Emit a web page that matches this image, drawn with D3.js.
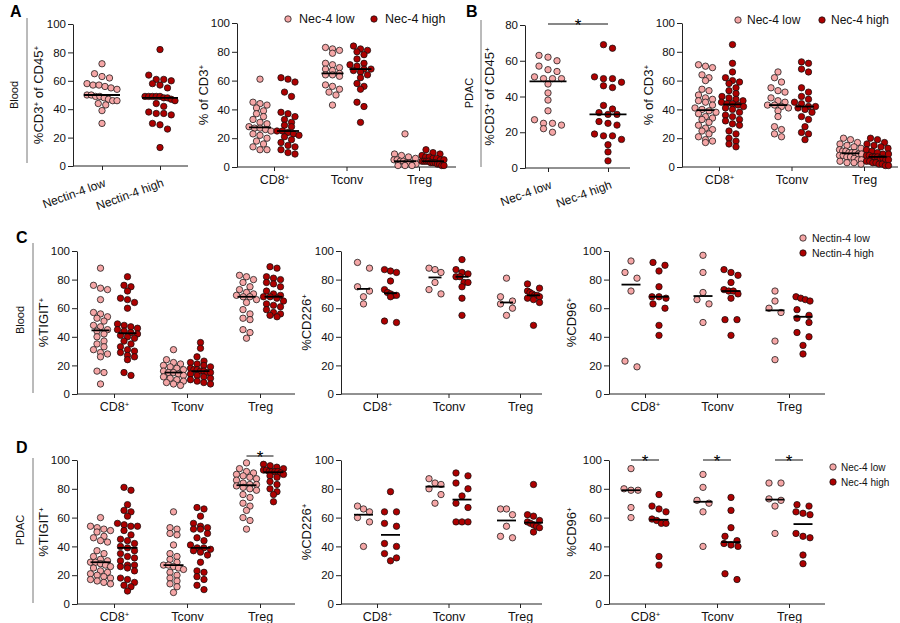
<!DOCTYPE html>
<html>
<head>
<meta charset="utf-8">
<script src="https://cdn.jsdelivr.net/npm/d3@7"></script>
<style>
  body { margin: 0; background: #fff; }
  svg { font-family: "Liberation Sans", Arial, sans-serif; }
</style>
</head>
<body>
<svg id="chart" width="900" height="623"></svg>
<script>
// ---- data ----
const cells = ["CD8+", "Tconv", "Treg"];
const nectinGroups = ["Nectin-4 low", "Nectin-4 high"];
const necGroups = ["Nec-4 low", "Nec-4 high"];

// A: blood, %CD3+ of CD45+
const bloodCD3OfCD45Low = [72, 65, 63, 62, 58, 57, 57, 56, 55, 54, 50, 50, 49, 49, 48, 47, 46, 46, 44, 43, 39, 30];
const bloodCD3OfCD45High = [82, 64, 61, 61, 60, 58, 57, 55, 49, 49, 49, 49, 49, 48, 48, 47, 46, 44, 42, 38, 37, 37, 36, 30, 29, 26, 13];
// A: blood, % of CD3+  (CD8+, Tconv, Treg)
const bloodSubsetLow = [
  [61, 45, 44, 43, 41, 39, 37, 35, 33, 31, 30, 28, 27, 27, 26, 25, 23, 22, 20, 18, 16, 14, 12, 12],
  [83, 82, 81, 79, 72, 71, 69, 68, 67, 65, 64, 64, 63, 57, 56, 54, 52, 50, 43],
  [23, 9, 8, 7, 6, 5, 5, 4, 4, 3, 3, 2, 2, 1, 1, 1]
];
const bloodSubsetHigh = [
  [62, 61, 59, 52, 49, 38, 37, 35, 33, 31, 29, 28, 25, 25, 24, 23, 22, 21, 19, 17, 15, 14, 12, 10, 9],
  [84, 82, 81, 80, 78, 75, 72, 71, 70, 68, 68, 67, 66, 64, 62, 58, 56, 54, 45, 42, 31],
  [12, 10, 9, 8, 7, 7, 6, 6, 5, 5, 4, 4, 4, 4, 3, 3, 3, 2, 2, 1, 1]
];

// B: PDAC
const pdacCD3OfCD45Low = [63, 62, 60, 57, 55, 54, 51, 50, 50, 50, 47, 42, 38, 32, 27, 25, 25, 24, 22, 20];
const pdacCD3OfCD45High = [69, 67, 51, 50, 50, 48, 46, 45, 35, 33, 31, 30, 30, 26, 25, 24, 19, 18, 18, 16, 13, 9, 4];
const pdacCD3Stars = ["*"];
const pdacSubsetLow = [
  [71, 70, 69, 64, 62, 60, 54, 53, 50, 48, 47, 46, 45, 43, 41, 40, 39, 38, 37, 35, 34, 33, 31, 29, 27, 26, 25, 23, 21, 19, 18, 17],
  [66, 62, 59, 55, 53, 52, 48, 46, 45, 43, 43, 42, 41, 39, 35, 28, 26, 23, 21],
  [20, 19, 17, 16, 15, 14, 13, 12, 11, 11, 10, 10, 10, 9, 9, 8, 8, 7, 7, 6, 5, 5, 4, 3, 3, 2]
];
const pdacSubsetHigh = [
  [85, 72, 66, 62, 60, 59, 58, 55, 53, 51, 49, 48, 47, 46, 45, 44, 44, 43, 42, 41, 40, 38, 36, 35, 33, 32, 30, 29, 25, 23, 20, 18, 16, 14],
  [73, 72, 68, 66, 55, 52, 49, 47, 45, 44, 42, 42, 41, 40, 38, 35, 33, 28, 24, 23, 19],
  [20, 19, 17, 16, 15, 14, 13, 12, 11, 10, 9, 9, 8, 8, 7, 7, 7, 6, 6, 5, 5, 4, 4, 3, 3, 2, 2, 1, 1]
];

// C: blood checkpoint receptors
const bloodTigitLow = [
  [88, 76, 74, 73, 66, 57, 56, 54, 53, 51, 48, 47, 45, 44, 42, 40, 37, 35, 33, 31, 29, 28, 26, 16, 15, 7],
  [31, 24, 22, 21, 20, 19, 18, 17, 16, 15, 15, 14, 13, 12, 11, 10, 9, 8, 7, 6],
  [83, 82, 80, 78, 75, 73, 71, 70, 69, 68, 68, 66, 64, 59, 56, 53, 52, 45, 43, 39]
];
const bloodTigitHigh = [
  [82, 76, 75, 72, 67, 66, 64, 60, 49, 48, 47, 46, 45, 44, 43, 42, 41, 40, 39, 37, 35, 33, 31, 30, 29, 27, 26, 24, 15, 13],
  [36, 32, 26, 23, 22, 21, 20, 19, 18, 17, 17, 16, 16, 15, 15, 14, 13, 12, 11, 10, 9, 8, 7],
  [89, 88, 82, 81, 80, 78, 77, 75, 72, 70, 69, 68, 68, 67, 65, 63, 62, 61, 59, 57, 56, 55, 54]
];
const bloodCd226Low = [[92, 88, 75, 72, 68, 63], [88, 87, 85, 78, 73, 70], [81, 68, 65, 63, 60, 55]];
const bloodCd226High = [
  [87, 86, 85, 79, 73, 71, 70, 69, 69, 68, 51, 50],
  [94, 87, 85, 84, 82, 82, 78, 78, 75, 67, 55],
  [77, 74, 72, 71, 70, 69, 69, 68, 67, 66, 64, 48]
];
const bloodCd96Low = [[93, 85, 81, 72, 23, 19], [97, 85, 71, 66, 63, 50], [72, 65, 60, 57, 37, 24]];
const bloodCd96High = [
  [92, 90, 86, 75, 68, 68, 67, 63, 60, 48, 41],
  [87, 85, 83, 78, 73, 72, 72, 70, 67, 52, 52, 41],
  [68, 67, 66, 65, 59, 55, 53, 50, 43, 40, 34, 28]
];

// D: PDAC checkpoint receptors
const pdacTigitLow = [
  [60, 54, 53, 52, 51, 50, 47, 46, 44, 43, 37, 35, 33, 31, 30, 29, 29, 28, 27, 26, 25, 23, 22, 21, 20, 19, 18, 17, 16, 15, 14],
  [64, 53, 52, 49, 48, 41, 35, 33, 31, 29, 27, 27, 26, 25, 24, 22, 20, 18, 16, 14, 12, 8],
  [98, 94, 92, 91, 90, 89, 88, 87, 86, 84, 83, 83, 82, 81, 80, 79, 76, 74, 70, 68, 65, 60, 58, 52]
];
const pdacTigitHigh = [
  [81, 79, 69, 65, 64, 61, 56, 55, 54, 54, 51, 48, 45, 44, 42, 40, 39, 37, 35, 33, 32, 30, 27, 27, 26, 25, 23, 18, 17, 15, 13, 12, 9],
  [67, 66, 61, 56, 54, 53, 52, 52, 49, 46, 44, 41, 39, 39, 38, 37, 36, 34, 29, 23, 22, 19, 17, 13, 10],
  [97, 96, 95, 94, 93, 93, 92, 92, 92, 92, 91, 90, 89, 88, 85, 83, 80, 78, 76, 71]
];
const pdacTigitStars = ["", "", "*"];
const pdacCd226Low = [[68, 66, 64, 60, 57, 40], [87, 84, 83, 80, 76, 70], [66, 66, 62, 54, 47, 46]];
const pdacCd226High = [
  [78, 64, 64, 56, 54, 42, 40, 35, 32, 30],
  [91, 89, 84, 80, 75, 70, 67, 57, 57, 57],
  [83, 62, 61, 58, 57, 56, 55, 54, 53, 50]
];
const pdacCd96Low = [[94, 80, 79, 79, 67, 60], [90, 81, 72, 70, 64, 40], [84, 84, 73, 72, 68, 49]];
const pdacCd96High = [
  [76, 68, 66, 64, 59, 58, 56, 56, 33, 27],
  [74, 65, 53, 47, 44, 42, 41, 40, 21, 17],
  [69, 68, 64, 63, 62, 49, 47, 46, 34, 28]
];
const pdacCd96Stars = ["*", "*", "*"];

// ---- style / layout ----
const FONT = "'Liberation Sans', Arial, sans-serif";
const colors = ["#f5a6a6", "#ad0000"];
const R = 3.2;
const svg = d3.select("#chart");

const panels = [
  { type: "pair", groups: nectinGroups, data: [bloodCD3OfCD45Low, bloodCD3OfCD45High],
    xr: [73, 188], pts: [102, 160], yr: [166, 24], max: 100, ylabel: "%CD3+ of CD45+", ylx: 43,
    medW: 36, sp: 7.5, W: 30, binH: 6 },
  { type: "trio", data: [bloodSubsetLow, bloodSubsetHigh], xr: [237, 456], pts: [274, 419], off: 14,
    yr: [167, 23], max: 100, ylabel: "% of CD3+", ylx: 208, medW: 22, sp: 7, W: 22, binH: 5,
    legend: { labels: necGroups, pos: [[288, 19], [374, 19]], dx: 11, font: 12.5 } },
  { type: "pair", groups: necGroups, data: [pdacCD3OfCD45Low, pdacCD3OfCD45High],
    xr: [525, 630], pts: [548, 608], yr: [168, 25], max: 80, ylabel: "%CD3+ of CD45+", ylx: 494,
    medW: 37, sp: 9, W: 32, binH: 6, stars: pdacCD3Stars, starY: 24 },
  { type: "trio", data: [pdacSubsetLow, pdacSubsetHigh], xr: [682, 898], pts: [719, 864], off: 13.5,
    yr: [167, 23], max: 100, ylabel: "% of CD3+", ylx: 653, medW: 18, sp: 7, W: 22, binH: 5,
    legend: { labels: necGroups, pos: [[738, 20], [822, 20]], dx: 9, font: 12 } },

  { type: "trio", data: [bloodTigitLow, bloodTigitHigh], xr: [77, 295], pts: [114, 260], off: 13.5,
    yr: [394, 251], max: 100, ylabel: "%TIGIT+", ylx: 48, medW: 18, sp: 7, W: 20, binH: 5 },
  { type: "trio", data: [bloodCd226Low, bloodCd226High], xr: [341, 542], pts: [377, 520], off: 13.5,
    yr: [394, 251], max: 100, ylabel: "%CD226+", ylx: 311, medW: 13, sp: 12, W: 12, binH: 6 },
  { type: "trio", data: [bloodCd96Low, bloodCd96High], xr: [609, 825], pts: [645, 789], off: 14,
    yr: [394, 251], max: 100, ylabel: "%CD96+", ylx: 576, medW: 19, sp: 12, W: 14, binH: 6,
    legend: { labels: nectinGroups, pos: [[803, 238], [803, 253]], dx: 9, font: 10.5 } },

  { type: "trio", data: [pdacTigitLow, pdacTigitHigh], xr: [77, 295], pts: [114, 260], off: 13.5,
    yr: [604, 460], max: 100, ylabel: "%TIGIT+", ylx: 48, medW: 20, sp: 7, W: 20, binH: 5,
    stars: pdacTigitStars, starY: 456 },
  { type: "trio", data: [pdacCd226Low, pdacCd226High], xr: [341, 542], pts: [377, 520], off: 13.5,
    yr: [604, 460], max: 100, ylabel: "%CD226+", ylx: 311, medW: 19, sp: 12, W: 12, binH: 6 },
  { type: "trio", data: [pdacCd96Low, pdacCd96High], xr: [609, 825], pts: [645, 789], off: 14,
    yr: [604, 460], max: 100, ylabel: "%CD96+", ylx: 576, medW: 19, sp: 12, W: 14, binH: 6,
    stars: pdacCd96Stars, starY: 460,
    legend: { labels: necGroups, pos: [[833, 467], [833, 482]], dx: 8, font: 10 } }
];

// every "+" in a label is drawn as a superscript
function supText(text, str) {
  text.text(null);
  str.split("+").forEach((part, i, arr) => {
    if (part) text.append("tspan").text(part);
    if (i < arr.length - 1)
      text.append("tspan").attr("baseline-shift", "super").attr("font-size", "0.62em").text("+");
  });
}

// GraphPad-like scatter: bin into rows, spread each row around the column centre
function rowOffsets(vals, y, p) {
  const items = vals.map(v => ({ v, py: y(v) })).sort((a, b) => a.py - b.py);
  const rows = [];
  items.forEach(d => {
    const last = rows[rows.length - 1];
    if (last && d.py - last[0].py < p.binH) last.push(d);
    else rows.push([d]);
  });
  rows.forEach(row => {
    const n = row.length;
    const step = n > 1 ? Math.min(p.sp, p.W / (n - 1)) : 0;
    row.forEach((d, i) => { d.dx = (i - (n - 1) / 2) * step; });
  });
  return items;
}

function styleAxis(g, size) {
  g.attr("font-family", FONT);
  g.selectAll(".domain, .tick line").attr("stroke", "#222").attr("stroke-width", 1);
  g.selectAll(".tick text").attr("font-size", size).attr("fill", "#111");
}

function drawPanel(p) {
  const g = svg.append("g");
  const y = d3.scaleLinear().domain([0, p.max]).range(p.yr);

  const yAxis = g.append("g")
    .attr("transform", `translate(${p.xr[0]},0)`)
    .call(d3.axisLeft(y).tickValues(d3.range(0, p.max + 1, 20)).tickSize(5).tickPadding(2).tickSizeOuter(0));
  styleAxis(yAxis, 11.5);

  // column positions
  let xCat, xGrp, cats;
  if (p.type === "pair") {
    cats = p.groups;
    xCat = d3.scalePoint().domain(p.groups).range(p.pts);
  } else {
    cats = cells;
    xCat = d3.scalePoint().domain(cells).range(p.pts);
    xGrp = d3.scalePoint().domain([0, 1]).range([-p.off, p.off]);
  }

  const xAxis = g.append("g")
    .attr("transform", `translate(0,${y(0)})`)
    .call(d3.axisBottom(xCat).tickSize(4).tickPadding(4).tickSizeOuter(0));
  xAxis.select(".domain").attr("d", `M${p.xr[0]},0H${p.xr[1]}`);
  styleAxis(xAxis, 12.5);
  xAxis.selectAll(".tick text").each(function(d) { supText(d3.select(this), d); });
  if (p.type === "pair") {
    xAxis.selectAll(".tick text")
      .attr("text-anchor", "end")
      .attr("y", 0).attr("dy", 0)
      .attr("transform", "translate(4,20) rotate(-20)")
      .attr("font-size", 12);
  }

  // y label
  const yl = g.append("text")
    .attr("transform", `translate(${p.ylx},${(p.yr[0] + p.yr[1]) / 2}) rotate(-90)`)
    .attr("text-anchor", "middle")
    .attr("font-size", 13)
    .attr("fill", "#111");
  supText(yl, p.ylabel);

  // columns of points
  const cols = [];
  cats.forEach((c, ci) => {
    if (p.type === "pair") {
      cols.push({ cx: xCat(c), vals: p.data[ci], color: colors[ci] });
    } else {
      [0, 1].forEach(gi => cols.push({ cx: xCat(c) + xGrp(gi), vals: p.data[gi][ci], color: colors[gi] }));
    }
  });

  cols.forEach(col => {
    const pts = rowOffsets(col.vals, y, p);
    g.append("g").selectAll("circle")
      .data(pts)
      .join("circle")
      .attr("cx", d => col.cx + d.dx)
      .attr("cy", d => d.py)
      .attr("r", R)
      .attr("fill", col.color)
      .attr("stroke", "#111")
      .attr("stroke-width", 0.75);
    const m = d3.median(col.vals);
    g.append("line")
      .attr("x1", col.cx - p.medW / 2).attr("x2", col.cx + p.medW / 2)
      .attr("y1", y(m)).attr("y2", y(m))
      .attr("stroke", "#000").attr("stroke-width", 1.8);
  });

  // significance bars
  if (p.stars) {
    p.stars.forEach((s, si) => {
      if (!s) return;
      let x1, x2;
      if (p.type === "pair") { x1 = xCat(cats[0]); x2 = xCat(cats[1]); }
      else { x1 = xCat(cells[si]) + xGrp(0); x2 = xCat(cells[si]) + xGrp(1); }
      g.append("line").attr("x1", x1).attr("x2", x2).attr("y1", p.starY).attr("y2", p.starY)
        .attr("stroke", "#111").attr("stroke-width", 1);
      g.append("text").attr("x", (x1 + x2) / 2).attr("y", p.starY + 7)
        .attr("text-anchor", "middle").attr("font-size", 17).text(s);
    });
  }

  // legend
  if (p.legend) {
    const lg = g.append("g").attr("font-size", p.legend.font).attr("fill", "#111");
    p.legend.labels.forEach((lab, i) => {
      const [lx, ly] = p.legend.pos[i];
      lg.append("circle").attr("cx", lx).attr("cy", ly).attr("r", R)
        .attr("fill", colors[i]).attr("stroke", "#111").attr("stroke-width", 0.75);
      lg.append("text").attr("x", lx + p.legend.dx).attr("y", ly).attr("dy", "0.35em").text(lab);
    });
  }
}

panels.forEach(drawPanel);

// panel letters and tissue labels
const letters = [["A", 10, 17], ["B", 466, 17], ["C", 16, 243], ["D", 16, 453]];
svg.selectAll(".letter").data(letters).join("text")
  .attr("class", "letter")
  .attr("x", d => d[1]).attr("y", d => d[2])
  .attr("font-size", 16).attr("font-weight", "bold").text(d => d[0]);

const sides = [["Blood", 18, 95, 27, 18, 163], ["PDAC", 473, 93, 481, 20, 167],
               ["Blood", 24, 320, 33, 243, 393], ["PDAC", 24, 530, 33, 458, 603]];
sides.forEach(s => {
  svg.append("text")
    .attr("transform", `translate(${s[1]},${s[2]}) rotate(-90)`)
    .attr("text-anchor", "middle").attr("font-size", 11).attr("fill", "#111")
    .text(s[0]);
  svg.append("line").attr("x1", s[3]).attr("x2", s[3]).attr("y1", s[4]).attr("y2", s[5])
    .attr("stroke", "#777").attr("stroke-width", 1);
});
</script>
</body>
</html>
